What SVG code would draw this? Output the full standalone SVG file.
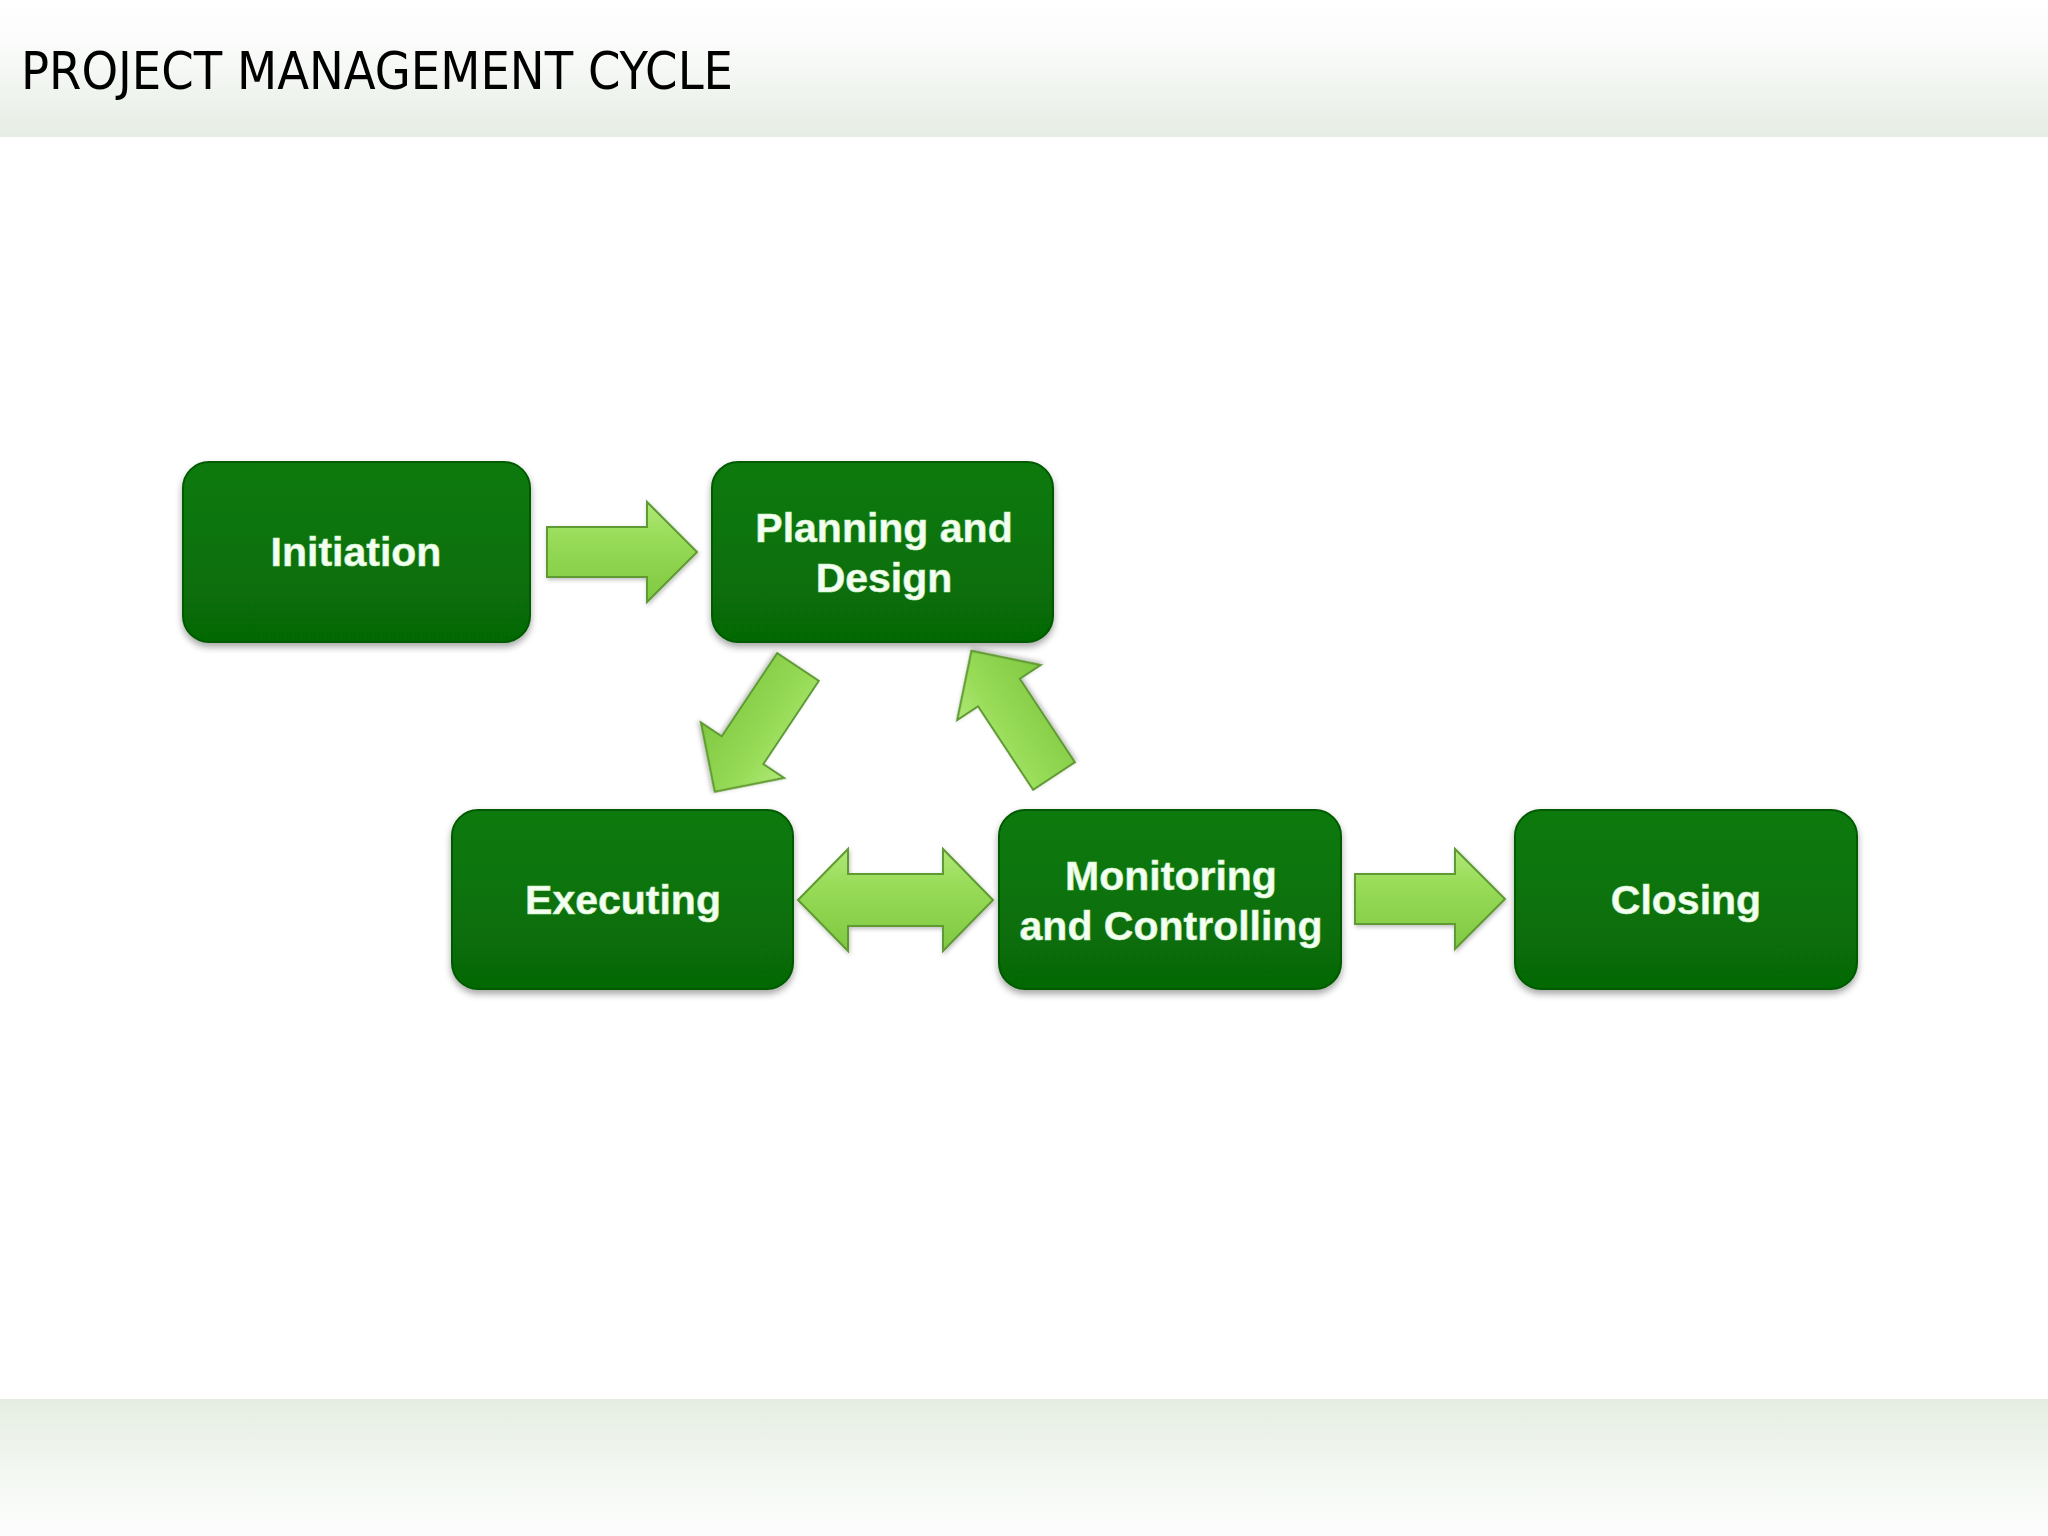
<svg xmlns="http://www.w3.org/2000/svg" xmlns:xlink="http://www.w3.org/1999/xlink" width="2048" height="1536" viewBox="0 0 2048 1536">
  <defs>
    <linearGradient id="hdr" x1="0" y1="0" x2="0" y2="1">
      <stop offset="0" stop-color="#ffffff"/>
      <stop offset="0.3" stop-color="#fbfcfb"/>
      <stop offset="1" stop-color="#e6ede4"/>
    </linearGradient>
    <linearGradient id="ftr" x1="0" y1="0" x2="0" y2="1">
      <stop offset="0" stop-color="#e5ede2"/>
      <stop offset="0.55" stop-color="#f3f8f2"/>
      <stop offset="1" stop-color="#fdfdfd"/>
    </linearGradient>
    <linearGradient id="nodeFill" x1="0" y1="0" x2="0" y2="1">
      <stop offset="0" stop-color="#0b7a0b"/>
      <stop offset="0.5" stop-color="#087208"/>
      <stop offset="1" stop-color="#066806"/>
    </linearGradient>
    <linearGradient id="arrowFill" x1="0" y1="0" x2="0" y2="1">
      <stop offset="0" stop-color="#b0e878"/>
      <stop offset="0.35" stop-color="#98dc58"/>
      <stop offset="1" stop-color="#80c842"/>
    </linearGradient>
    <filter id="shadow" x="-10%" y="-10%" width="120%" height="130%">
      <feDropShadow dx="0" dy="4" stdDeviation="3.5" flood-color="#000000" flood-opacity="0.35"/>
    </filter>
    <filter id="ashadow" x="-20%" y="-20%" width="140%" height="140%">
      <feDropShadow dx="1" dy="2" stdDeviation="2" flood-color="#000000" flood-opacity="0.25"/>
    </filter>
    <path id="arrow" d="M0,-25 H100 V-50 L150,0 L100,50 V25 H0 Z"/>
    <style>
      .node rect { fill: url(#nodeFill); stroke: #055a05; stroke-width: 2; filter: url(#shadow); }
      .label { font-family: "Liberation Sans", Arial, sans-serif; font-weight: bold; font-size: 41px; fill: #f3fff0; text-anchor: middle; stroke: #cdeec4; stroke-width: 0.6; }
      .arr { fill: url(#arrowFill); stroke: #5f9a30; stroke-width: 2; stroke-linejoin: miter; filter: url(#ashadow); }
      .title { font-family: "DejaVu Sans Condensed", "DejaVu Sans", sans-serif; font-size: 52px; fill: #000000; }
    </style>
  </defs>

  <rect x="0" y="0" width="2048" height="1536" fill="#ffffff"/>
  <rect x="0" y="0" width="2048" height="137" fill="url(#hdr)"/>
  <rect x="0" y="1399" width="2048" height="137" fill="url(#ftr)"/>

  <text class="title" x="21" y="89" textLength="712" lengthAdjust="spacingAndGlyphs">PROJECT MANAGEMENT CYCLE</text>

  <g id="connectors">
    <use xlink:href="#arrow" class="arr" transform="translate(547,552)"/>
    <use xlink:href="#arrow" class="arr" transform="translate(1355,899)"/>
    <use xlink:href="#arrow" class="arr" transform="translate(798,667) rotate(123.7)"/>
    <use xlink:href="#arrow" class="arr" transform="translate(1054,776) rotate(236.6)"/>
    <path class="arr" d="M798,900 L848,849 V874 H943 V849 L993,900 L943,951 V926 H848 V951 Z"/>
  </g>

  <g id="node-initiation" class="node">
    <rect x="183" y="462" width="347" height="180" rx="26" ry="26"/>
    <text class="label" x="356" y="566">Initiation</text>
  </g>
  <g id="node-planning" class="node">
    <rect x="712" y="462" width="341" height="180" rx="26" ry="26"/>
    <text class="label" x="884" y="542">Planning and</text>
    <text class="label" x="884" y="592">Design</text>
  </g>
  <g id="node-executing" class="node">
    <rect x="452" y="810" width="341" height="179" rx="26" ry="26"/>
    <text class="label" x="623" y="914">Executing</text>
  </g>
  <g id="node-monitoring" class="node">
    <rect x="999" y="810" width="342" height="179" rx="26" ry="26"/>
    <text class="label" x="1171" y="890">Monitoring</text>
    <text class="label" x="1171" y="940">and Controlling</text>
  </g>
  <g id="node-closing" class="node">
    <rect x="1515" y="810" width="342" height="179" rx="26" ry="26"/>
    <text class="label" x="1686" y="914">Closing</text>
  </g>
</svg>
